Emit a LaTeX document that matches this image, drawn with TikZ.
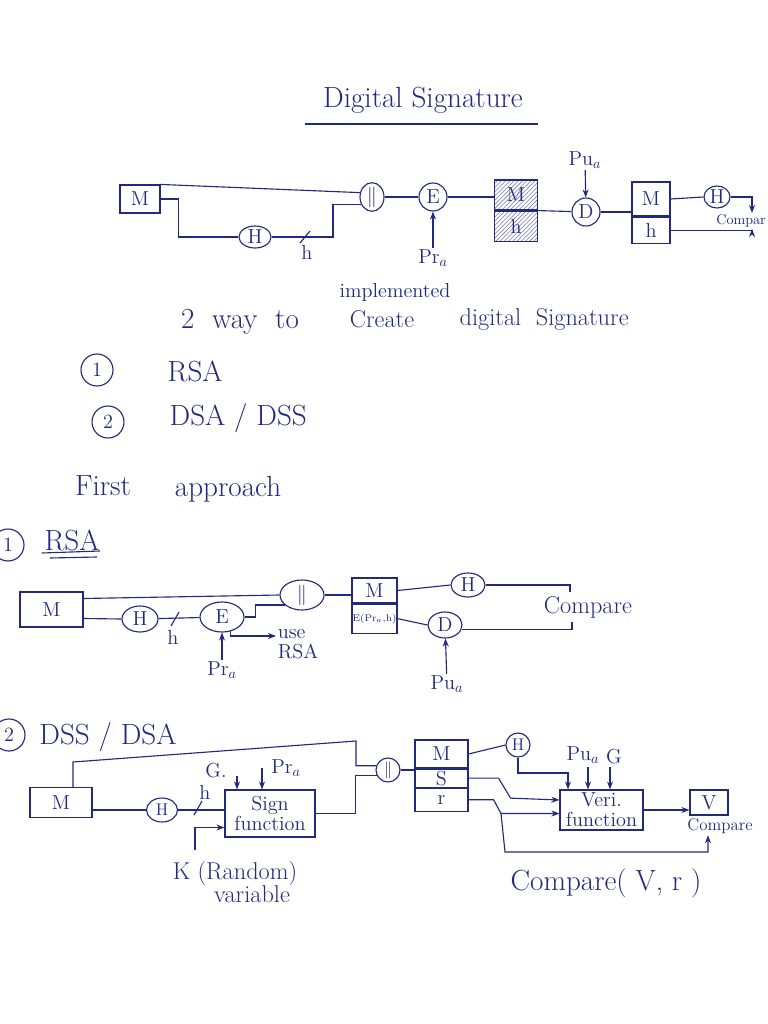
\documentclass[tikz,border=0pt]{standalone}
\usepackage{tikz}
\usetikzlibrary{arrows.meta,positioning,calc,shapes.geometric,patterns}
\definecolor{inkblue}{RGB}{34,42,128}
\tikzset{
  box/.style={draw=inkblue,thick,text=inkblue,inner sep=1pt,font=\Large},
  ring/.style={draw=inkblue,thick,ellipse,text=inkblue,inner sep=0pt,font=\Large},
  note/.style={text=inkblue,inner sep=1pt},
  wire/.style={draw=inkblue,thick},
  flow/.style={draw=inkblue,thick,-{Stealth[length=2mm]}}
}
\begin{document}
\begin{tikzpicture}[x=0.025cm,y=-0.025cm]
\fill[white] (0,0) rectangle (768,1024);
\useasboundingbox (0,0) rectangle (768,1024);

% title
\node[note,font=\huge] (title) at (423,100) {Digital Signature};
\draw[wire] (305,124) -- (538,124);

% general scheme
\node[box,minimum width=10mm,minimum height=7mm] (m1) at (140,199) {M};
\node[ring,minimum width=8mm,minimum height=5.5mm] (h1) at (255,237) {H};
\node[ring,minimum width=6mm,minimum height=7mm] (cat1) at (372,197) {$\|$};
\node[ring,minimum width=7mm,minimum height=7mm] (e1) at (433,197) {E};
\node[note,font=\Large] (pra1) at (433,258) {Pr$_a$};
\node[note,font=\Large] (hl1) at (307,252) {h};
\node[box,pattern=north east lines,pattern color=inkblue!60,
  minimum width=10.75mm,minimum height=7.5mm] (sig1) at (516,195) {M};
\node[box,pattern=north east lines,pattern color=inkblue!60,
  minimum width=10.75mm,minimum height=7.5mm,below=0pt of sig1] (sig2) {h};
\node[ring,minimum width=7mm,minimum height=7mm] (d1) at (586,212) {D};
\node[note,font=\Large] (pua1) at (585,160) {Pu$_a$};
\node[box,minimum width=9.5mm,minimum height=8.5mm] (mh1) at (651,199) {M};
\node[box,minimum width=9.5mm,minimum height=6.5mm,below=0pt of mh1] (mh2) {h};
\node[ring,minimum width=6.5mm,minimum height=5.5mm] (h2) at (717,197) {H};
\node[note] (cmp1) at (741,221) {Compar};

\draw[wire] (m1.north east) -- (cat1.160);
\draw[wire] (m1.east) -- ++(18,0) |- (h1.west);
\coordinate (j1) at (333,237);
\draw[wire] (h1.east) -- (j1) |- (cat1.215);
\draw[wire] (300,243) -- (310,231);
\draw[wire] (cat1) -- (e1);
\draw[flow] (pra1) -- (e1);
\draw[wire] (e1.east) -- (sig1.west |- e1.east);
\draw[wire] (sig1.south east) -- (d1);
\draw[flow] (pua1) -- (d1);
\draw[wire] (d1) -- (d1 -| mh1.west);
\draw[wire] (mh1.east) -- (h2.west);
\draw[flow] (h2.east) -| ($(cmp1.north)+(11,0)$);
\draw[flow] (mh2.east) -| ($(cmp1.south)+(11,0)$);

% ways
\node[note,font=\huge] (two) at (240,322) {2\ \ way\ \ to};
\node[note,font=\LARGE] (create) at (382,319) {Create};
\node[note,font=\Large] (impl) at (395,292) {implemented};
\node[note,font=\LARGE,anchor=west] (dsig) at (458,319) {digital\ \ Signature};
\node[ring,minimum size=8mm] (n1) at (97,370) {1};
\node[note,font=\huge,anchor=west] (rsa0) at (166,371) {RSA};
\node[ring,minimum size=8mm] (n2) at (108,422) {2};
\node[note,font=\huge,anchor=west] (dsa0) at (168,418) {DSA / DSS};
\node[note,font=\huge] (first) at (103,486) {First};
\node[note,font=\huge] (appr) at (228,489) {approach};

% RSA
\node[ring,minimum size=8mm] (n3) at (8,545) {1};
\node[note,font=\huge] (rsa) at (72,540) {RSA};
\draw[wire] (42,553) -- (100,551);
\draw[wire] (50,558) -- (97,557);
\node[box,minimum width=15.75mm,minimum height=8.75mm] (m2) at (51.5,609.5) {M};
\node[ring,minimum width=9mm,minimum height=6.5mm] (h3) at (140,619) {H};
\node[ring,minimum width=11mm,minimum height=7.5mm] (e2) at (222,617) {E};
\node[note,font=\Large] (hl2) at (173,637) {h};
\node[note,font=\Large] (pra2) at (222,670) {Pr$_a$};
\node[note,font=\Large,align=left] (use) at (298,644) {use\\[-4pt]RSA};
\node[ring,minimum width=11mm,minimum height=7.5mm] (cat2) at (302,595) {$\|$};
\node[box,minimum width=11.25mm,minimum height=6.25mm] (mr1) at (374.5,590.5) {M};
\node[box,font=\scriptsize,inner sep=0pt,minimum width=11.25mm,minimum height=7.25mm,
  below=0pt of mr1] (mr2) {E(Pr$_a$,h)};
\node[ring,minimum width=8.5mm,minimum height=6mm] (h4) at (468,585) {H};
\node[ring,minimum width=8.5mm,minimum height=6.5mm] (d2) at (445,625) {D};
\node[note,font=\Large] (pua2) at (447,684) {Pu$_a$};
\node[note,font=\LARGE] (cmp2) at (588,607) {Compare};

\draw[wire] ($(m2.east)+(0,-11)$) -- (cat2.west);
\draw[wire] ($(m2.east)+(0,9)$) -- (h3.west);
\draw[wire] (h3) -- (e2);
\draw[wire] (171,626) -- (179,612);
\draw[wire] (e2.east) -- ++(11,0) |- (cat2.210);
\draw[flow] (pra2) -- (e2);
\draw[flow] (e2.-60) |- ($(use.west)+(0,-8)$);
\draw[wire] (cat2.east) -- (cat2.east -| mr1.west);
\draw[wire] (mr1.east) -- (h4.west);
\draw[wire] (mr2.east) -- (d2.west);
\draw[wire] (h4.east) -| ($(cmp2.north)+(-18,-2)$);
\draw[wire] (d2.-15) -| ($(cmp2.south)+(-16,2)$);
\draw[flow] (pua2) -- (d2);

% DSS / DSA
\node[ring,minimum size=8mm] (n4) at (9,735) {2};
\node[note,font=\huge] (dss) at (108,737) {DSS / DSA};
\node[box,minimum width=15.5mm,minimum height=7.5mm] (m3) at (61,802.5) {M};
\node[ring,font=\large,minimum width=7.75mm,minimum height=6mm] (h5) at (162,810) {H};
\node[note,font=\Large] (hl3) at (205,792) {h};
\node[box,align=center,minimum width=22.5mm,minimum height=11.75mm,
  font=\Large\linespread{0.8}\selectfont] (sgn) at (270,813.5) {Sign\\function};
\node[note,font=\Large] (g1) at (216,771) {G.};
\node[note,font=\Large] (prb) at (286,768) {Pr$_a$};
\node[note,font=\LARGE] (knode) at (235,873) {K (Random)};
\node[note,font=\LARGE] (var) at (252,894) {variable};
\node[ring,font=\large,minimum size=6mm] (cat3) at (388,770) {$\|$};
\node[box,inner sep=0.5pt,minimum width=13.25mm,minimum height=7mm] (ms1) at (441.5,754) {M};
\node[box,inner sep=0.5pt,minimum width=13.25mm,minimum height=4.5mm,below=0pt of ms1] (ms2) {S};
\node[box,inner sep=0.5pt,minimum width=13.25mm,minimum height=5.75mm,below=0pt of ms2] (ms3) {r};
\node[ring,font=\large,minimum size=6mm] (h6) at (518,745) {H};
\node[box,align=center,minimum width=20.75mm,minimum height=10mm,
  font=\Large\linespread{0.8}\selectfont] (veri) at (601.5,810) {Veri.\\function};
\node[note,font=\Large] (pub) at (583,755) {Pu$_a$};
\node[note,font=\Large] (g2) at (614,757) {G};
\node[box,minimum width=9.5mm,minimum height=6.25mm] (vbox) at (709,802.5) {V};
\node[note,font=\large] (cmp3) at (720,826) {Compare};
\node[note,font=\huge] (cmpvr) at (606,883) {Compare( V, r )};

\coordinate (t3a) at (73,762);
\coordinate (t3b) at (356,741);
\draw[wire] (m3.north -| t3a) -- (t3a) -- (t3b) |- (cat3.160);
\draw[wire] (h5 -| m3.east) -- (h5);
\draw[wire] (h5) -- (h5 -| sgn.west);
\draw[wire] (194,815) -- (202,801);
\coordinate (kfoot) at (195,850);
\draw[flow] (kfoot) |- ($(sgn.west)+(0,14)$);
\coordinate (gin) at (237,776);
\draw[flow] (gin) -- (gin |- sgn.north);
\coordinate (prin) at (262,768);
\draw[flow] (prin) -- (prin |- sgn.north);
\draw[wire] (sgn.east) -- ++(40,0) |- (cat3.205);
\draw[wire] (cat3) -- (cat3 -| ms1.west);
\draw[wire] (ms1.east) -- (h6.west);
\coordinate (hbend) at (568,773);
\draw[flow] (h6.south) |- (hbend) -- (hbend |- veri.north);
\coordinate (pin) at (588,767);
\draw[flow] (pin) -- (pin |- veri.north);
\coordinate (gin2) at (610,767);
\draw[flow] (gin2) -- (gin2 |- veri.north);
\draw[flow] (ms2.east) -- ++(30,0) -- ++(12,20) -- ($(veri.west)+(0,-10)$);
\coordinate (rj) at (501,813.5);
\draw[flow] (ms3.east) -- ++(25,0) -- (rj) -- ($(veri.west)+(0,3.5)$);
\coordinate (rlow) at (505,852);
\draw[flow] (rj) -- (rlow) -| ($(cmp3.south)+(-12,0)$);
\draw[flow] (veri.east) -- (veri.east -| vbox.west);
\end{tikzpicture}
\end{document}
